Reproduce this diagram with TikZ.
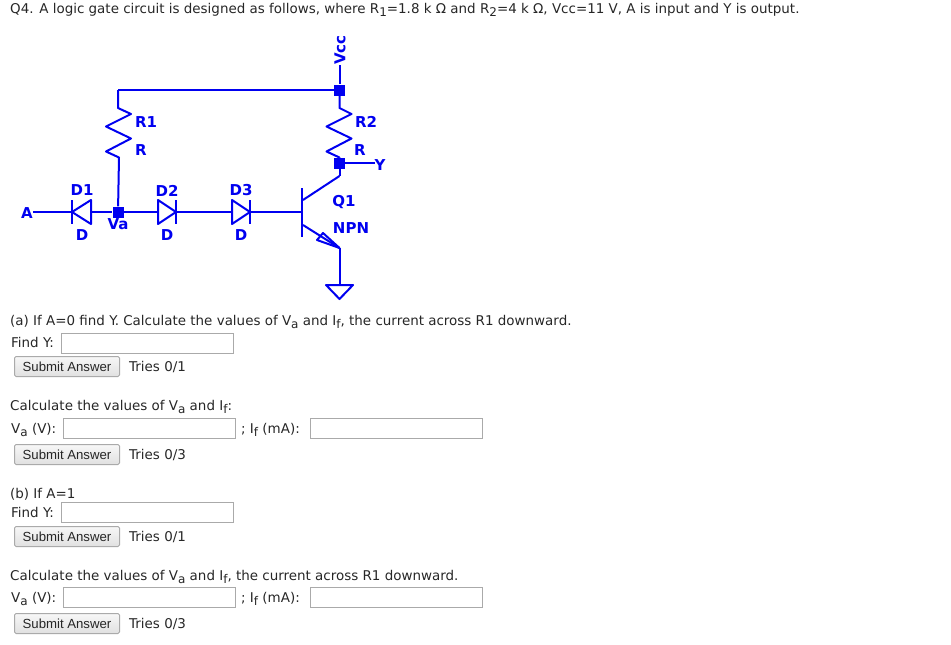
\documentclass[tikz,border=0pt]{standalone}
\usepackage{fontspec}
\setmainfont{DejaVu Sans}
\newfontfamily\btnfont{Liberation Sans}
\usetikzlibrary{positioning}
\usetikzlibrary{calc}
\definecolor{circblue}{RGB}{0,0,240}
\definecolor{boxgray}{RGB}{170,170,170}
\colorlet{txtc}{black!85}
\newcommand{\sbs}[1]{\raisebox{-3pt}{\fontsize{12}{12}\selectfont #1}}
\tikzset{
  wire/.style={circblue,line width=2pt,line join=round},
  junction/.style={fill=circblue,inner sep=0pt,minimum size=11pt},
  clabel/.style={circblue,inner sep=0pt,font=\fontsize{15}{15}\selectfont\bfseries},
  qtext/.style={txtc,inner sep=0pt,anchor=base west,font=\fontsize{13.45}{15}\selectfont},
  inbox/.style={draw=boxgray,line width=1pt,fill=white,inner sep=0pt,minimum width=172pt,minimum height=20pt,anchor=north west},
  submitbtn/.style={draw=boxgray,line width=1pt,rounded corners=1.5pt,top color=white!97!black,bottom color=white!88!black,
    text=txtc,inner sep=0pt,minimum width=105pt,minimum height=20pt,anchor=north west,font=\btnfont\fontsize{13.2}{15}\selectfont},
}
\begin{document}
\begin{tikzpicture}[x=1pt,y=-1pt]
\useasboundingbox (0,0) rectangle (951,645);

% question text
\node[qtext] (title) at (10,13) {Q4. A logic gate circuit is designed as follows, where R\sbs{1}=1.8 k Ω and R\sbs{2}=4 k Ω, Vcc=11 V, A is input and Y is output.};
\node[qtext] (parta) at (10,325) {(a) If A=0 find Y. Calculate the values of V\sbs{a} and I\sbs{f}, the current across R1 downward.};
\node[qtext] (findya) at (11,347) {Find Y:};
\node[qtext] (triesa) at (129,371) {Tries 0/1};
\node[qtext] (calca) at (10,410) {Calculate the values of V\sbs{a} and I\sbs{f}:};
\node[qtext] (vaa) at (11,433) {V\sbs{a} (V):};
\node[qtext] (ifa) at (241,433) {; I\sbs{f} (mA):};
\node[qtext] (triesb) at (129,459) {Tries 0/3};
\node[qtext] (partb) at (10,498) {(b) If A=1};
\node[qtext] (findyb) at (11,517) {Find Y:};
\node[qtext] (triesc) at (129,541) {Tries 0/1};
\node[qtext] (calcb) at (10,580) {Calculate the values of V\sbs{a} and I\sbs{f}, the current across R1 downward.};
\node[qtext] (vab) at (11,602) {V\sbs{a} (V):};
\node[qtext] (ifb) at (241,602) {; I\sbs{f} (mA):};
\node[qtext] (triesd) at (129,628) {Tries 0/3};

% answer boxes
\foreach \bx/\by/\bname in {61/333/boxa,63/418/boxb,310/418/boxc,61/502/boxd,63/587/boxe,310/587/boxf}
  \node[inbox] (\bname) at (\bx,\by) {};
\foreach \by/\bname in {356/btna,444/btnb,526/btnc,613/btnd}
  \node[submitbtn] (\bname) at (14,\by) {Submit Answer};

% junctions and free ends
\node[junction] (va) at (118,212) {};
\node[junction] (vtop) at (339.5,90) {};
\node[junction] (vout) at (339.5,163) {};
\coordinate (topl) at (118,90);
\coordinate (ain) at (33,212);
\coordinate (vccin) at (339.5,65);
\coordinate (yout) at (375,163);
\coordinate (d1) at (72,212);
\coordinate (d2) at (176,212);
\coordinate (d3) at (250,212);
\coordinate (qbase) at (302,212);
\coordinate (qcol) at (339.5,176);
\coordinate (qemit) at (339.5,248);
\coordinate (gnd) at (339.5,285);

% wires
\draw[wire] (ain) -- (d1);
\draw[wire] (d1) ++(19,0) -- (va);
\draw[wire] (va) -- ($(d2)+(-18,0)$);
\draw[wire] (d2) -- ($(d3)+(-18,0)$);
\draw[wire] (d3) -- (qbase);
\draw[wire] (topl) -- (vtop);
\draw[wire] (vccin) -- (vtop);
\draw[wire] (vout) -- (yout);
\draw[wire] (vout) -- (qcol);

% resistors
\draw[wire] (topl) -- ++(0,18) -- ++(13,6) -- ++(-25,12.5) -- ++(25,12) -- ++(-25,13) -- ++(13,6) -- (va);
\draw[wire] (vtop) -- ++(0,18) -- ++(12,6) -- ++(-25,12.5) -- ++(25,12) -- ++(-25,13) -- ++(13,6) -- (vout);

% diodes
\draw[wire] (d1) -- ++(19,-12) -- ++(0,24) -- cycle;
\draw[wire] (d1) ++(0,-12) -- ++(0,24);
\foreach \dn in {d2,d3} {
  \draw[wire] (\dn) -- ++(-18,-12) -- ++(0,24) -- cycle;
  \draw[wire] (\dn) ++(0,-12) -- ++(0,24);
}

% transistor
\draw[wire] (302,188) -- (302,237);
\draw[wire] (303,200) -- (qcol);
\draw[wire] (303,225) -- (qemit);
\draw[wire] (qemit) -- (323,233) -- (317,240) -- cycle;
\draw[wire] (qemit) -- (gnd);
\draw[wire] (326,285) -- (353,285) -- (339.5,299) -- cycle;

% labels
\node[clabel] (la) at (27,213) {A};
\node[clabel] (ly) at (380,165) {Y};
\node[clabel,rotate=90] (lvcc) at (340,50) {Vcc};
\node[clabel] (lr1) at (146,122) {R1};
\node[clabel] (lr1v) at (141,150) {R};
\node[clabel] (lr2) at (366,122) {R2};
\node[clabel] (lr2v) at (360,150) {R};
\node[clabel] (ld1) at (82,190.5) {D1};
\node[clabel] (ld1v) at (82,235.5) {D};
\node[clabel] (lva) at (118,224.5) {Va};
\node[clabel] (ld2) at (167,190.5) {D2};
\node[clabel] (ld2v) at (167,235.5) {D};
\node[clabel] (ld3) at (241,190.5) {D3};
\node[clabel] (ld3v) at (241,235.5) {D};
\node[clabel] (lq) at (344,202) {Q1};
\node[clabel] (lnpn) at (351,228.5) {NPN};
\end{tikzpicture}
\end{document}
